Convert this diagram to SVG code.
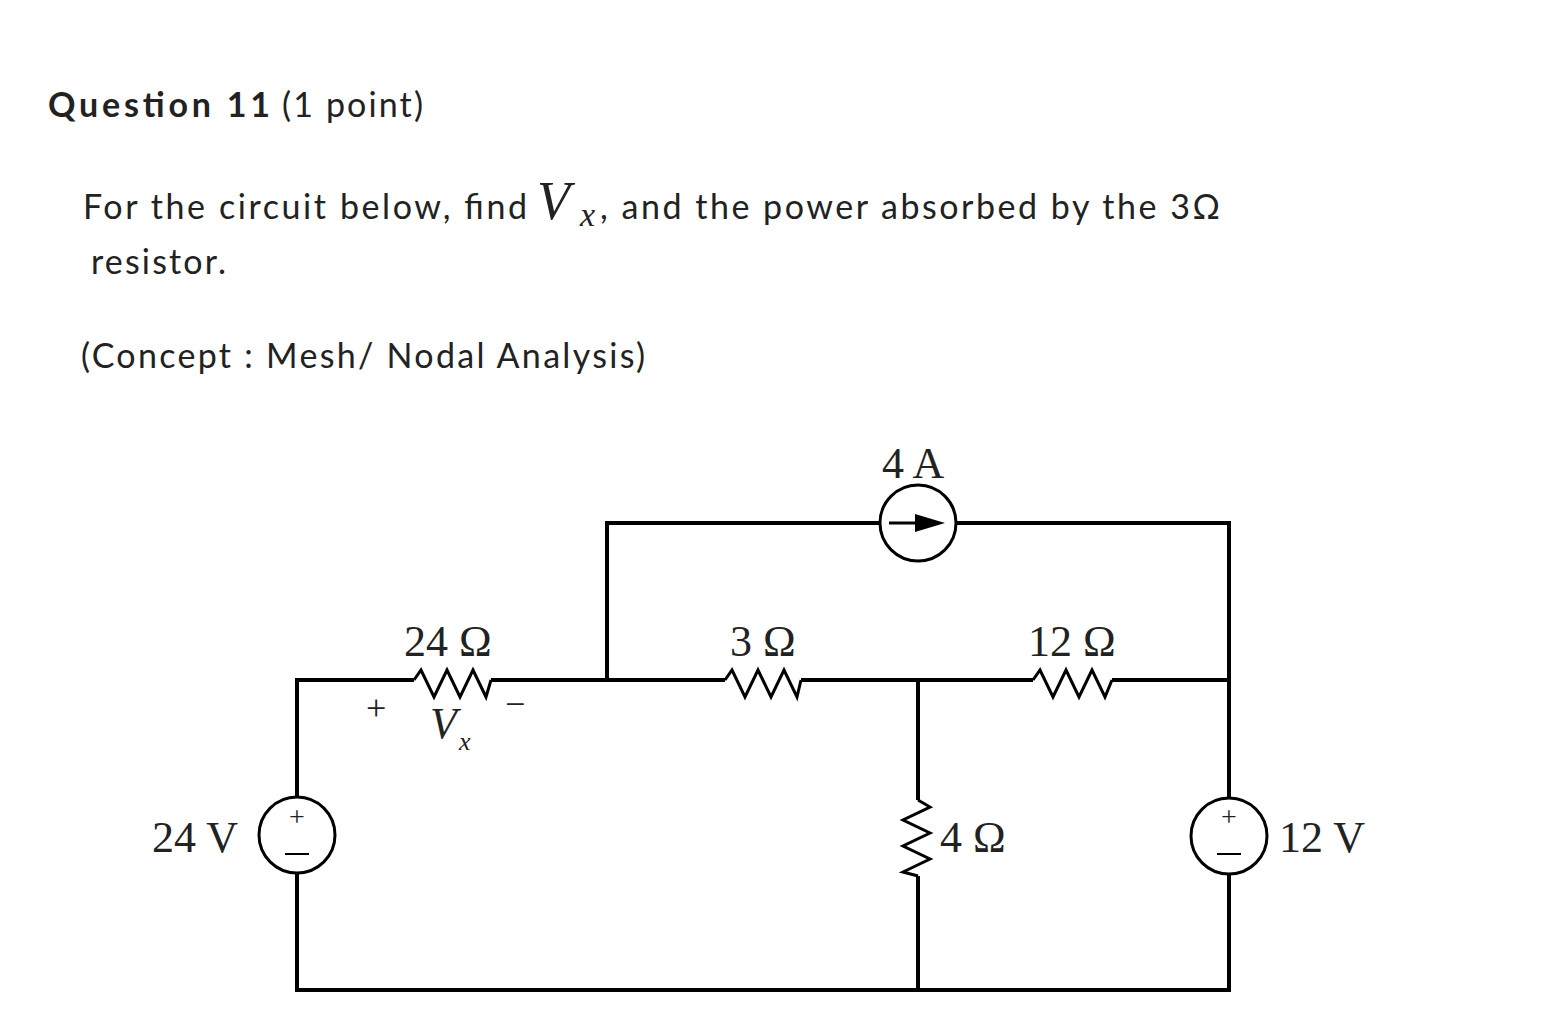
<svg xmlns="http://www.w3.org/2000/svg" width="1566" height="1034" viewBox="0 0 1566 1034">
<style>
.q{font-family:Lato,"Liberation Sans",sans-serif;fill:#222;font-size:34px}
.w{fill:none;stroke:#000;stroke-width:4;stroke-linejoin:miter}
.t{fill:none;stroke:#000;stroke-width:3}
.l{font-family:"Liberation Serif",serif;font-size:44px;fill:#222}
.s{font-family:"Liberation Serif",serif;fill:#222}
</style>
<rect width="1566" height="1034" fill="#fff"/>
<text class="q" x="48" y="117" font-size="36" font-weight="bold" textLength="222" lengthAdjust="spacing">Question 11</text>
<text class="q" x="282" y="117" font-size="36" textLength="141" lengthAdjust="spacing">(1 point)</text>
<text class="q" x="83" y="219" textLength="444" lengthAdjust="spacing">For the circuit below,  find</text>
<text class="s" x="537" y="219" font-size="54" font-style="italic">V</text>
<text class="s" x="580" y="226" font-size="34" font-style="italic">x</text>
<text class="q" x="600" y="219" textLength="620" lengthAdjust="spacing">, and the power absorbed by the 3Ω</text>
<text class="q" x="91" y="274" textLength="135" lengthAdjust="spacing">resistor.</text>
<text class="q" x="81" y="368" textLength="564" lengthAdjust="spacing">(Concept : Mesh/ Nodal Analysis)</text>
<g id="connectors">
<path class="w" d="M297 798 V680 H414 M491 680 H725 M801 680 H1033 M1112 680 H1229 M607 680 V523 H880 M956 523 H1229 V798 M297 872 V990 H1229 V874 M918 680 V800 M918 876 V990"/>
</g>
<g id="R24"><path class="t" d="M414 680 L421 670 L434 697 L447 670 L460 697 L473 670 L486 697 L491 680"/>
<text class="l" x="404" y="656">24 Ω</text>
<text class="s" x="366" y="720" font-size="36">+</text><text class="s" x="430" y="738" font-size="44" font-style="italic">V</text><text class="s" x="459" y="750" font-size="26" font-style="italic">x</text><text class="s" x="505" y="716" font-size="36">−</text></g>
<g id="R3"><path class="t" d="M725 680 L732 670 L745 697 L758 670 L771 697 L784 670 L797 697 L801 680"/><text class="l" x="730" y="656">3 Ω</text></g>
<g id="R12"><path class="t" d="M1033 680 L1040 670 L1053 697 L1066 670 L1079 697 L1092 670 L1105 697 L1112 680"/><text class="l" x="1028" y="656">12 Ω</text></g>
<g id="R4"><path class="t" d="M918 800 L930 807 L903 820 L930 833 L903 846 L930 859 L903 872 L918 876"/><text class="l" x="940" y="852">4 Ω</text></g>
<g id="I4"><circle class="t" cx="918" cy="523" r="38"/><path d="M889 523 H925" stroke="#000" stroke-width="3"/><polygon points="945,523 915,514 915,532" fill="#000"/><text class="l" x="882" y="478">4 A</text></g>
<g id="V24"><circle class="t" cx="297" cy="835" r="38"/><text class="s" x="297" y="826" font-size="28" text-anchor="middle">+</text><path d="M285 854 H309" stroke="#000" stroke-width="2"/><text class="l" x="152" y="852">24 V</text></g>
<g id="V12"><circle class="t" cx="1229" cy="836" r="38"/><text class="s" x="1229" y="826" font-size="28" text-anchor="middle">+</text><path d="M1217 854 H1241" stroke="#000" stroke-width="2"/><text class="l" x="1279" y="852">12 V</text></g>
</svg>
